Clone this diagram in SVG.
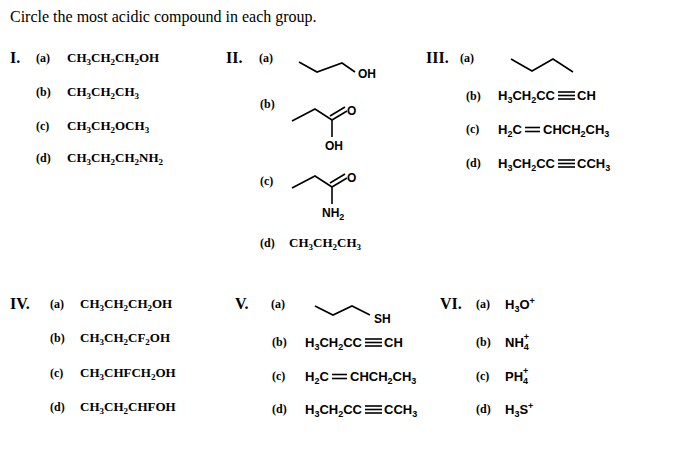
<svg xmlns="http://www.w3.org/2000/svg" width="700" height="452" viewBox="0 0 700 452">
<style>
text{fill:#000}
.t{font-family:"Liberation Serif",serif;font-size:16px}
.r{font-family:"Liberation Serif",serif;font-size:16px;font-weight:bold}
.l{font-family:"Liberation Serif",serif;font-size:12px;font-weight:bold}
.f{font-family:"Liberation Serif",serif;font-size:13px;font-weight:bold}
.a{font-family:"Liberation Sans",sans-serif;font-size:13px;font-weight:bold}
.s{font-size:9px}
line,polyline{stroke:#000;stroke-width:1.6;fill:none}
</style>
<rect width="700" height="452" fill="#fff"/>
<text class="t" x="10" y="22">Circle the most acidic compound in each group.</text>
<g id="groupI">
<text class="r" x="10" y="63">I.</text>
<text class="l" x="36" y="62">(a)</text><text class="f" x="67" y="62">CH<tspan class="s" dy="3">3</tspan><tspan dy="-3">CH</tspan><tspan class="s" dy="3">2</tspan><tspan dy="-3">CH</tspan><tspan class="s" dy="3">2</tspan><tspan dy="-3">OH</tspan></text>
<text class="l" x="36" y="96">(b)</text><text class="f" x="67" y="96">CH<tspan class="s" dy="3">3</tspan><tspan dy="-3">CH</tspan><tspan class="s" dy="3">2</tspan><tspan dy="-3">CH</tspan><tspan class="s" dy="3">3</tspan></text>
<text class="l" x="36" y="130">(c)</text><text class="f" x="67" y="130">CH<tspan class="s" dy="3">3</tspan><tspan dy="-3">CH</tspan><tspan class="s" dy="3">2</tspan><tspan dy="-3">OCH</tspan><tspan class="s" dy="3">3</tspan></text>
<text class="l" x="36" y="162">(d)</text><text class="f" x="67" y="162">CH<tspan class="s" dy="3">3</tspan><tspan dy="-3">CH</tspan><tspan class="s" dy="3">2</tspan><tspan dy="-3">CH</tspan><tspan class="s" dy="3">2</tspan><tspan dy="-3">NH</tspan><tspan class="s" dy="3">2</tspan></text>
</g>
<g id="groupII">
<text class="r" x="226" y="63">II.</text>
<text class="l" x="259" y="62">(a)</text>
<polyline points="299,62 317,72 342,63 355,72"/>
<text class="a" x="358" y="78" style="font-size:12px">OH</text>
<text class="l" x="260" y="108">(b)</text>
<polyline points="292,121 315,109 332,120"/>
<line x1="332" y1="120" x2="332" y2="137"/>
<line x1="332" y1="120" x2="347" y2="111"/>
<line x1="330" y1="116" x2="345" y2="107"/>
<text class="a" x="347" y="115" style="font-size:12px">O</text>
<text class="a" x="325" y="150" style="font-size:12px">OH</text>
<text class="l" x="260" y="185">(c)</text>
<polyline points="292,188 315,176 332,187"/>
<line x1="332" y1="187" x2="332" y2="204"/>
<line x1="332" y1="187" x2="347" y2="178"/>
<line x1="330" y1="183" x2="345" y2="174"/>
<text class="a" x="347" y="182" style="font-size:12px">O</text>
<text class="a" x="322" y="217" style="font-size:12px">NH<tspan class="s" dy="3">2</tspan></text>
<text class="l" x="260" y="247">(d)</text><text class="f" x="289" y="247">CH<tspan class="s" dy="3">3</tspan><tspan dy="-3">CH</tspan><tspan class="s" dy="3">2</tspan><tspan dy="-3">CH</tspan><tspan class="s" dy="3">3</tspan></text>
</g>
<g id="groupIII">
<text class="r" x="426" y="63">III.</text>
<text class="l" x="460" y="62">(a)</text>
<polyline points="511,59 532,71 553,59 573,72"/>
<text class="l" x="466" y="100">(b)</text>
<text class="a" x="498" y="100">H<tspan class="s" dy="3">3</tspan><tspan dy="-3">CH</tspan><tspan class="s" dy="3">2</tspan><tspan dy="-3">CC</tspan></text>
<line x1="558" y1="92" x2="575" y2="92"/><line x1="558" y1="95.5" x2="575" y2="95.5"/><line x1="558" y1="99" x2="575" y2="99"/>
<text class="a" x="577" y="100">CH</text>
<text class="l" x="466" y="133">(c)</text>
<text class="a" x="498" y="134">H<tspan class="s" dy="3">2</tspan><tspan dy="-3">C</tspan></text>
<line x1="525" y1="127.5" x2="540" y2="127.5"/><line x1="525" y1="131.5" x2="540" y2="131.5"/>
<text class="a" x="543" y="134">CHCH<tspan class="s" dy="3">2</tspan><tspan dy="-3">CH</tspan><tspan class="s" dy="3">3</tspan></text>
<text class="l" x="466" y="167">(d)</text>
<text class="a" x="498" y="168">H<tspan class="s" dy="3">3</tspan><tspan dy="-3">CH</tspan><tspan class="s" dy="3">2</tspan><tspan dy="-3">CC</tspan></text>
<line x1="558" y1="160" x2="575" y2="160"/><line x1="558" y1="163.5" x2="575" y2="163.5"/><line x1="558" y1="167" x2="575" y2="167"/>
<text class="a" x="577" y="168">CCH<tspan class="s" dy="3">3</tspan></text>
</g>
<g id="groupIV">
<text class="r" x="10" y="309">IV.</text>
<text class="l" x="50" y="308">(a)</text><text class="f" x="80" y="308">CH<tspan class="s" dy="3">3</tspan><tspan dy="-3">CH</tspan><tspan class="s" dy="3">2</tspan><tspan dy="-3">CH</tspan><tspan class="s" dy="3">2</tspan><tspan dy="-3">OH</tspan></text>
<text class="l" x="50" y="342">(b)</text><text class="f" x="80" y="342">CH<tspan class="s" dy="3">3</tspan><tspan dy="-3">CH</tspan><tspan class="s" dy="3">2</tspan><tspan dy="-3">CF</tspan><tspan class="s" dy="3">2</tspan><tspan dy="-3">OH</tspan></text>
<text class="l" x="50" y="377">(c)</text><text class="f" x="80" y="377">CH<tspan class="s" dy="3">3</tspan><tspan dy="-3">CHFCH</tspan><tspan class="s" dy="3">2</tspan><tspan dy="-3">OH</tspan></text>
<text class="l" x="50" y="411">(d)</text><text class="f" x="80" y="411">CH<tspan class="s" dy="3">3</tspan><tspan dy="-3">CH</tspan><tspan class="s" dy="3">2</tspan><tspan dy="-3">CHFOH</tspan></text>
</g>
<g id="groupV">
<text class="r" x="235" y="309">V.</text>
<text class="l" x="271" y="308">(a)</text>
<polyline points="315,306 333,315 352,306 370,315"/>
<text class="a" x="374" y="323" style="font-size:12px">SH</text>
<text class="l" x="272" y="346">(b)</text>
<text class="a" x="305" y="347">H<tspan class="s" dy="3">3</tspan><tspan dy="-3">CH</tspan><tspan class="s" dy="3">2</tspan><tspan dy="-3">CC</tspan></text>
<line x1="365" y1="339" x2="382" y2="339"/><line x1="365" y1="342.5" x2="382" y2="342.5"/><line x1="365" y1="346" x2="382" y2="346"/>
<text class="a" x="384" y="347">CH</text>
<text class="l" x="272" y="380">(c)</text>
<text class="a" x="305" y="381">H<tspan class="s" dy="3">2</tspan><tspan dy="-3">C</tspan></text>
<line x1="332" y1="374.5" x2="347" y2="374.5"/><line x1="332" y1="378.5" x2="347" y2="378.5"/>
<text class="a" x="350" y="381">CHCH<tspan class="s" dy="3">2</tspan><tspan dy="-3">CH</tspan><tspan class="s" dy="3">3</tspan></text>
<text class="l" x="272" y="413">(d)</text>
<text class="a" x="305" y="414">H<tspan class="s" dy="3">3</tspan><tspan dy="-3">CH</tspan><tspan class="s" dy="3">2</tspan><tspan dy="-3">CC</tspan></text>
<line x1="365" y1="406" x2="382" y2="406"/><line x1="365" y1="409.5" x2="382" y2="409.5"/><line x1="365" y1="413" x2="382" y2="413"/>
<text class="a" x="384" y="414">CCH<tspan class="s" dy="3">3</tspan></text>
</g>
<g id="groupVI">
<text class="r" x="440" y="309">VI.</text>
<text class="l" x="476" y="308">(a)</text><text class="a" x="505" y="309">H<tspan class="s" dy="3">3</tspan><tspan dy="-3">O</tspan><tspan class="s" dy="-5">+</tspan></text>
<text class="l" x="476" y="346">(b)</text><text class="a" x="505" y="347">NH<tspan class="s" dy="3">4</tspan><tspan class="s" dx="-5" dy="-10">+</tspan></text>
<text class="l" x="476" y="380">(c)</text><text class="a" x="505" y="381">PH<tspan class="s" dy="3">4</tspan><tspan class="s" dx="-5" dy="-10">+</tspan></text>
<text class="l" x="476" y="413">(d)</text><text class="a" x="505" y="414">H<tspan class="s" dy="3">3</tspan><tspan dy="-3">S</tspan><tspan class="s" dy="-5">+</tspan></text>
</g>
</svg>
